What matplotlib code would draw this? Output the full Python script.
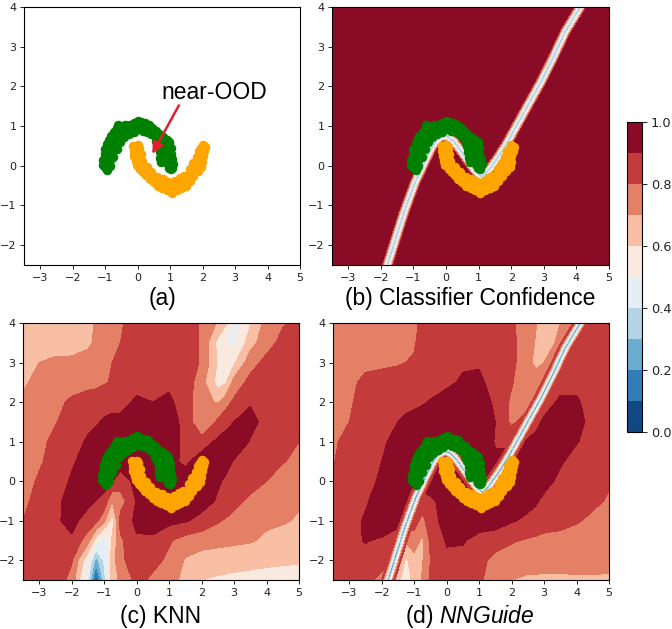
import numpy as np
import matplotlib
matplotlib.use('Agg')
import matplotlib.pyplot as plt
import matplotlib.tri as mtri

plt.rcParams['font.family'] = ['DejaVu Sans']
plt.rcParams['mathtext.fontset'] = 'custom'
plt.rcParams['mathtext.it'] = 'Liberation Sans:italic'

# moons
green_x = [-0.93, -1.0, -1.08, -1.07, -1.02, -1.0, -0.93, -0.88, -0.82, -0.72, -0.63, -0.62, -0.5, -0.38, -0.25,
           -0.12, 0.0, 0.1, 0.22, 0.35, 0.45, 0.55, 0.65, 0.78, 0.9, 0.98, 1.02, 1.02, 1.07, 1.1, 1.05, 1.03,
           -0.85, -0.85, -0.85, -0.82, -0.72, -0.6, -0.48, -0.33, -0.18, 0.0, 0.15, 0.3, 0.42, 0.55, 0.68, 0.8,
           0.88, 0.9, 0.92, 0.98,
           -0.65, -0.55, -0.42, -0.28, -0.12, 0.0, 0.15, 0.3, 0.42, 0.58, 0.63, 0.68, 0.7, 0.73, -0.75]
green_y = [-0.1, -0.03, 0.03, 0.15, 0.3, 0.42, 0.55, 0.65, 0.75, 0.85, 0.95, 1.02, 0.98, 1.02, 1.03,
           1.08, 1.13, 1.1, 1.07, 1.03, 0.95, 0.88, 0.8, 0.73, 0.65, 0.6, 0.45, 0.3, 0.18, 0.05, -0.05, -0.08,
           0.0, 0.15, 0.3, 0.45, 0.6, 0.72, 0.82, 0.9, 0.95, 1.0, 0.98, 0.93, 0.82, 0.72, 0.62, 0.5,
           0.35, 0.2, 0.05, -0.05,
           0.42, 0.6, 0.72, 0.8, 0.86, 0.93, 0.88, 0.86, 0.8, 0.62, 0.5, 0.35, 0.2, 0.1, 0.22]

orange_x = [-0.13, -0.12, -0.1, -0.06, -0.02, 0.08, 0.18, 0.27, 0.38, 0.5, 0.62, 0.75, 0.9, 1.05, 1.2, 1.35, 1.48,
            1.6, 1.72, 1.85, 1.95, 1.98, 1.92, 2.0, 2.05, 2.07, 2.0,
            0.0, 0.02, 0.05, 0.1, 0.22, 0.33, 0.45, 0.58, 0.72, 0.88, 1.02, 1.18, 1.32, 1.45, 1.57, 1.68, 1.78,
            1.88, 1.93, 1.95,
            0.05, 0.1, 0.13, 0.28, 0.42, 0.6, 0.78, 0.95, 1.15, 1.3, 1.42, 1.6, 1.72, 1.82, 1.88]
orange_y = [0.5, 0.38, 0.25, 0.12, 0.02, -0.08, -0.16, -0.24, -0.33, -0.42, -0.5, -0.55, -0.6, -0.68, -0.6, -0.55, -0.5,
            -0.38, -0.25, -0.13, -0.02, 0.1, 0.15, 0.25, 0.38, 0.48, 0.53,
            0.52, 0.35, 0.2, 0.05, -0.05, -0.15, -0.25, -0.35, -0.42, -0.48, -0.5, -0.47, -0.42, -0.35, -0.22, -0.12, 0.0,
            0.1, 0.3, 0.45,
            0.45, 0.3, 0.12, -0.02, -0.16, -0.28, -0.33, -0.4, -0.38, -0.3, -0.26, -0.08, 0.08, 0.22, 0.38]

# grid knots of the contour fields
grid_x = [-3.5, -3, -2.5, -2, -1.5, -1.25, -1, -0.75, -0.5, 0, 0.5, 1, 1.5, 2, 2.5, 2.75, 3, 3.5, 4, 4.5, 5]
grid_y = [4, 3.5, 3, 2.5, 2, 1.5, 1, 0.5, 0, -0.5, -1, -1.5, -2, -2.5]

knn_z = [
    [.62, .62, .62, .63, .67, .71, .74, .76, .79, .84, .86, .86, .84, .79, .69, .61, .47, .59, .74, .79, .83],
    [.63, .63, .63, .64, .68, .72, .74, .77, .80, .85, .87, .87, .85, .79, .57, .50, .47, .66, .76, .83, .87],
    [.66, .70, .73, .73, .74, .76, .78, .80, .83, .87, .88, .88, .85, .79, .59, .55, .58, .76, .83, .87, .89],
    [.69, .72, .74, .75, .76, .77, .79, .81, .84, .88, .89, .88, .86, .74, .56, .59, .74, .83, .87, .89, .89],
    [.71, .73, .77, .82, .86, .86, .87, .88, .88, .91, .90, .92, .85, .73, .69, .76, .82, .895, .88, .88, .87],
    [.72, .76, .795, .84, .88, .89, .91, .915, .915, .95, .95, .93, .88, .69, .82, .87, .90, .92, .88, .86, .84],
    [.73, .78, .82, .87, .91, .93, .94, .95, .95, .96, .96, .94, .88, .85, .92, .94, .95, .895, .86, .83, .80],
    [.75, .79, .83, .89, .93, .94, .95, .95, .95, .93, .93, .93, .88, .95, .94, .92, .895, .86, .83, .805, .78],
    [.77, .81, .86, .91, .93, .94, .94, .90, .85, .93, .95, .95, .95, .94, .91, .89, .87, .84, .80, .76, .73],
    [.78, .83, .88, .93, .92, .90, .87, .70, .75, .91, .95, .95, .95, .94, .89, .86, .83, .78, .76, .74, .71],
    [.80, .85, .89, .92, .87, .83, .72, .55, .84, .92, .93, .93, .91, .87, .81, .79, .77, .75, .72, .71, .69],
    [.84, .85, .86, .89, .74, .55, .42, .62, .78, .889, .888, .81, .76, .74, .73, .725, .72, .71, .68, .66, .64],
    [.85, .85, .85, .81, .52, .25, .42, .65, .78, .85, .83, .78, .69, .66, .65, .645, .64, .63, .62, .615, .61],
    [.85, .85, .85, .77, .42, .05, .35, .65, .72, .83, .78, .74, .67, .60, .585, .58, .575, .57, .565, .56, .56],
]

nnguide_z = [
    [.74, .74, .74, .75, .76, .77, .79, .81, .83, .85, .86, .86, .85, .82, .74, .705, .66, .70, .78, .84, .88],
    [.75, .75, .75, .755, .77, .78, .795, .82, .84, .86, .87, .87, .86, .82, .75, .69, .66, .72, .80, .86, .89],
    [.76, .77, .78, .78, .79, .80, .805, .82, .85, .87, .89, .895, .87, .83, .72, .68, .70, .80, .87, .89, .89],
    [.76, .78, .82, .84, .85, .85, .85, .86, .87, .885, .91, .91, .88, .81, .71, .74, .79, .86, .88, .89, .89],
    [.77, .79, .83, .86, .87, .87, .875, .89, .905, .93, .94, .93, .89, .78, .76, .80, .85, .92, .91, .87, .86],
    [.78, .80, .85, .88, .90, .92, .94, .95, .95, .96, .96, .95, .90, .78, .85, .87, .92, .95, .93, .87, .85],
    [.79, .82, .86, .89, .92, .94, .95, .95, .96, .96, .96, .95, .895, .87, .91, .93, .95, .96, .905, .87, .85],
    [.795, .84, .87, .90, .94, .95, .96, .96, .96, .95, .95, .95, .91, .95, .96, .96, .96, .91, .87, .85, .83],
    [.81, .85, .88, .91, .95, .96, .96, .96, .96, .96, .96, .96, .96, .96, .96, .95, .93, .88, .85, .83, .81],
    [.83, .86, .89, .94, .95, .95, .90, .85, .88, .94, .96, .96, .96, .96, .93, .91, .88, .86, .84, .82, .79],
    [.85, .87, .91, .95, .93, .87, .84, .77, .86, .94, .96, .96, .96, .91, .88, .87, .85, .84, .81, .78, .75],
    [.87, .88, .905, .89, .85, .72, .76, .68, .82, .91, .91, .86, .83, .81, .79, .78, .77, .76, .75, .73, .72],
    [.86, .87, .87, .86, .74, .58, .66, .69, .80, .88, .87, .82, .78, .75, .75, .75, .74, .74, .74, .74, .73],
    [.85, .85, .84, .76, .62, .55, .63, .71, .82, .86, .84, .81, .77, .70, .68, .68, .68, .68, .685, .685, .685],
]

# classifier boundary
boundary_x = [-1.92, -1.8, -1.55, -1.3, -1.1, -0.94, -0.75, -0.58, -0.45, -0.32, -0.18, -0.05, 0.08, 0.24, 0.45,
              0.65, 0.85, 1.0, 1.09, 1.18, 1.36, 1.6, 1.87, 2.18, 2.49, 2.89, 3.3, 3.66, 4.12, 4.25]
boundary_y = [-2.7, -2.5, -1.85, -1.2, -0.75, -0.4, -0.07, 0.23, 0.45, 0.61, 0.71, 0.75, 0.72, 0.61, 0.38,
              0.15, -0.08, -0.22, -0.27, -0.22, -0.06, 0.22, 0.57, 1.03, 1.49, 2.08, 2.75, 3.38, 4.0, 4.2]
band_px = [0, 1.8, 3.0, 3.8, 4.6, 5.4, 6.4]
band_conf = [.28, .43, .55, .65, .75, .85, .97]
band_nnguide = [.15, .42, .55, .65, .75, .82, .84]

levels = np.linspace(0, 1, 11)
x_ticks = [-3, -2, -1, 0, 1, 2, 3, 4, 5]
y_ticks = [-2, -1, 0, 1, 2, 3, 4]
W, H = 672, 629


def make_axes(fig, left, top, right, bottom):
    ax = fig.add_axes([left / W, 1 - bottom / H, (right - left) / W, (bottom - top) / H])
    ax.set_xlim(-3.5, 5)
    ax.set_ylim(-2.5, 4)
    ax.set_xticks(x_ticks)
    ax.set_yticks(y_ticks)
    ax.tick_params(labelsize=8, length=3, width=0.7, pad=2.5, colors='#222222')
    for s in ax.spines.values():
        s.set_linewidth(0.8)
    return ax


def draw_band(ax, conf):
    # strip of triangles either side of the boundary, offsets in pixels
    bx = np.array(boundary_x)
    by = np.array(boundary_y)
    sx, sy = 32.5, 39.7
    dx = np.gradient(bx * sx)
    dy = np.gradient(by * sy)
    n = np.hypot(dx, dy)
    nx, ny = -dy / n, dx / n
    offs = np.array([-o for o in band_px[:0:-1]] + band_px)
    vals = np.array(conf[:0:-1] + conf)
    xs, ys, zs = [], [], []
    for i in range(len(bx)):
        xs.extend(bx[i] + offs * nx[i] / sx)
        ys.extend(by[i] + offs * ny[i] / sy)
        zs.extend(vals)
    m = len(offs)
    tris = []
    for i in range(len(bx) - 1):
        for j in range(m - 1):
            a = i * m + j
            tris.append([a, a + 1, a + m])
            tris.append([a + 1, a + m + 1, a + m])
    tr = mtri.Triangulation(xs, ys, tris)
    ax.tricontourf(tr, zs, levels=levels, cmap='RdBu_r', vmin=0, vmax=1)


def draw_moons(ax):
    ax.scatter(green_x, green_y, s=34, c='green', zorder=5)
    ax.scatter(orange_x, orange_y, s=34, c='orange', zorder=5)


def caption(fig, x, y, parts):
    fig.text(x / W, 1 - y / H, parts, ha='center', va='center', fontsize=16.5, family='Liberation Sans')


fig = plt.figure(figsize=(W / 100, H / 100), dpi=100)

ax_a = make_axes(fig, 24, 7, 300, 265)
ax_b = make_axes(fig, 332, 7, 609, 265)
ax_c = make_axes(fig, 23, 323, 299, 580)
ax_d = make_axes(fig, 333, 323, 609, 580)

# (a)
draw_moons(ax_a)
ax_a.annotate('', xy=(0.45, 0.3), xytext=(1.27, 1.52),
              arrowprops=dict(arrowstyle='-|>', color='#e0202c', lw=1.8, mutation_scale=17, shrinkA=0, shrinkB=0),
              zorder=6)
ax_a.text(0.72, 1.84, 'near-OOD', fontsize=16.5, va='center', family='Liberation Sans')

# (b)
conf_base = np.full((len(grid_y), len(grid_x)), 0.98)
cs = ax_b.contourf(grid_x, grid_y, conf_base, levels=levels, cmap='RdBu_r', vmin=0, vmax=1)
draw_band(ax_b, band_conf)
draw_moons(ax_b)

# (c)
ax_c.contourf(grid_x, grid_y, np.array(knn_z), levels=levels, cmap='RdBu_r', vmin=0, vmax=1)
draw_moons(ax_c)

# (d)
ax_d.contourf(grid_x, grid_y, np.array(nnguide_z), levels=levels, cmap='RdBu_r', vmin=0, vmax=1)
draw_band(ax_d, band_nnguide)
draw_moons(ax_d)

caption(fig, 163, 298, '(a)')
caption(fig, 470, 298, '(b) Classifier Confidence')
caption(fig, 161, 617, '(c) KNN')
caption(fig, 470, 617, '(d) $\\mathit{NNGuide}$')

cax = fig.add_axes([627 / W, 1 - 432 / H, 15 / W, 310 / H])
cb = fig.colorbar(cs, cax=cax, ticks=[0, 0.2, 0.4, 0.6, 0.8, 1.0])
cb.ax.tick_params(labelsize=9.3, length=3.5, width=0.7, pad=3, colors='#222222')
cb.outline.set_linewidth(0.8)

fig.savefig('out.png', dpi=100)
